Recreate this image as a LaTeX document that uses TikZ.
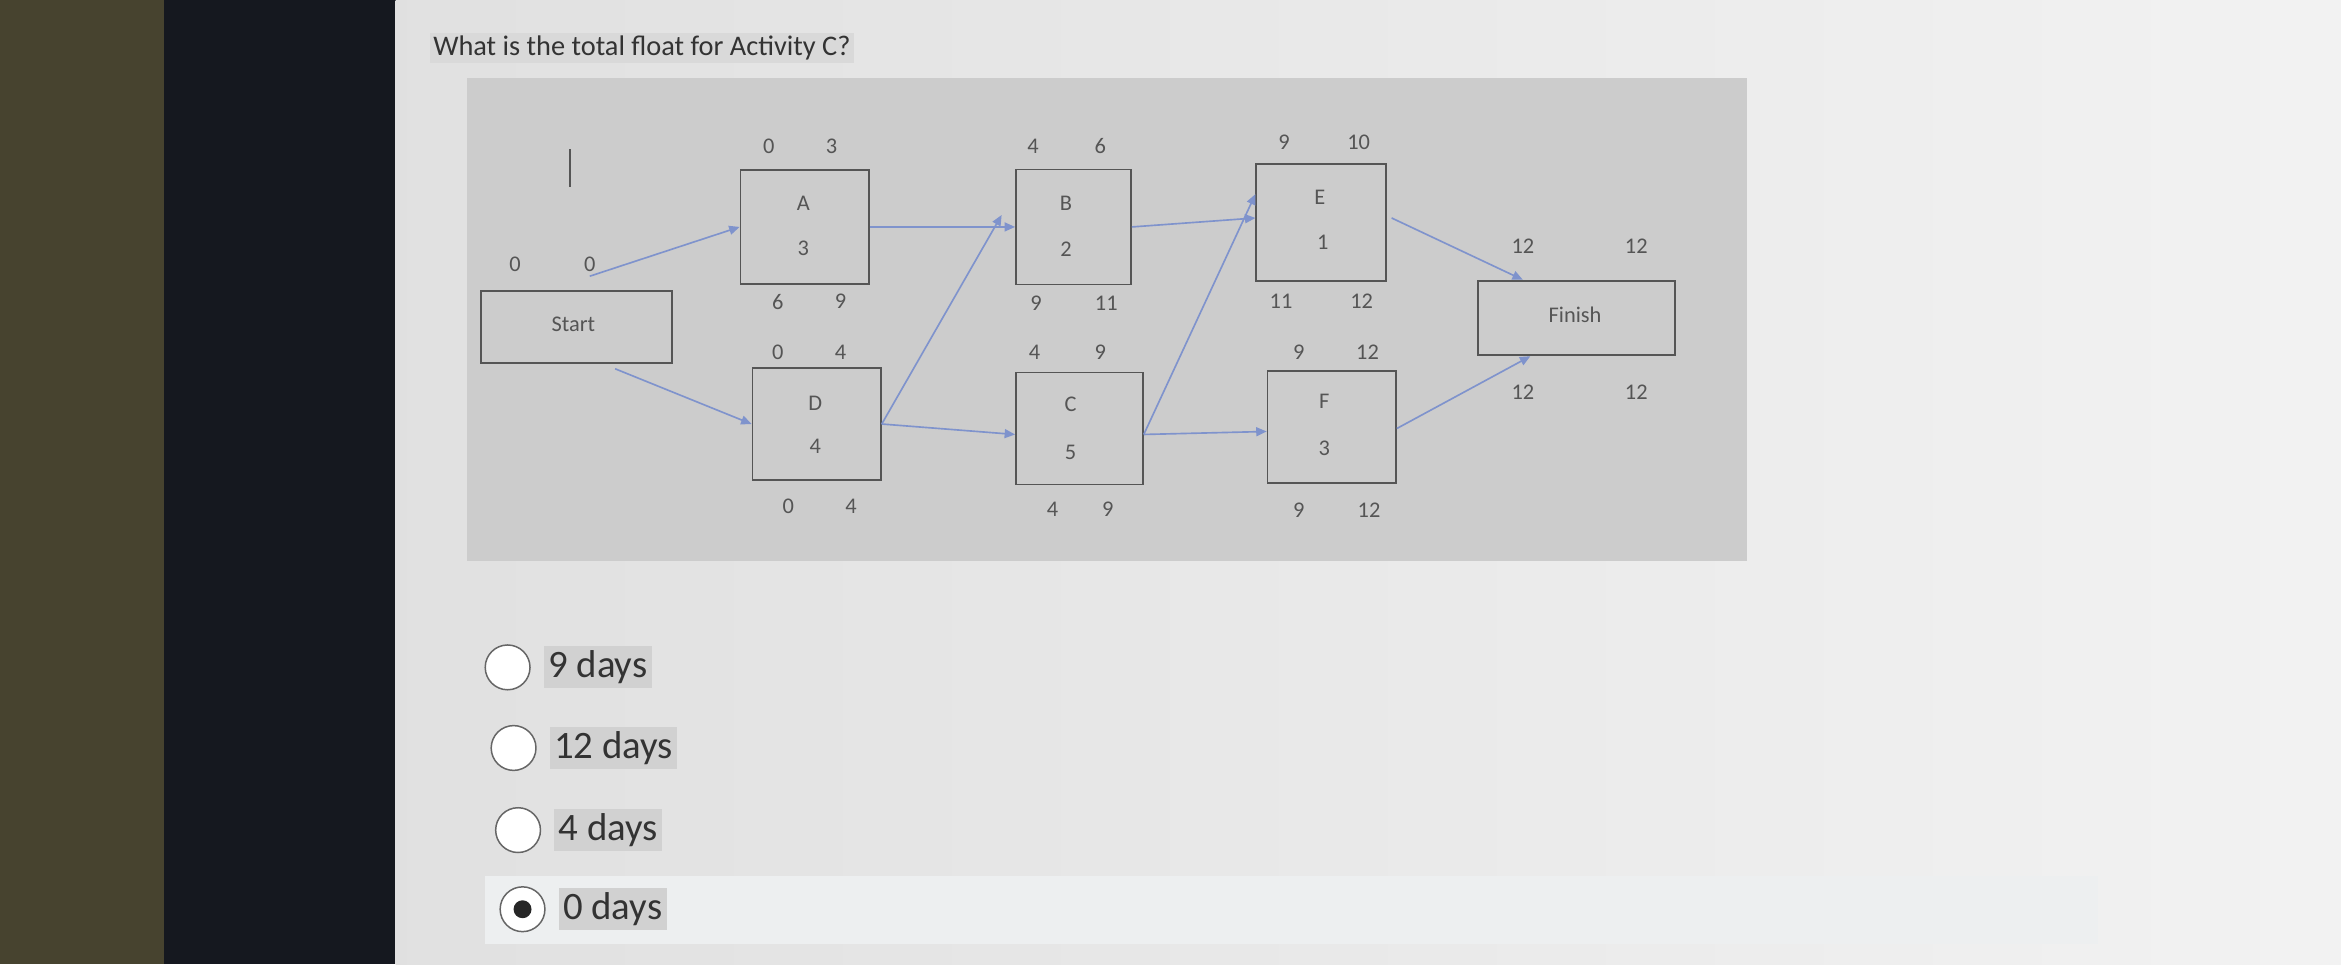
\documentclass[tikz,border=0pt]{standalone}
\usepackage{fontspec}
\setmainfont{Carlito}
\usetikzlibrary{arrows.meta}
\definecolor{lbl}{HTML}{555555}
\definecolor{arr}{HTML}{7F93CC}
\definecolor{olive}{HTML}{47432F}
\definecolor{navy}{HTML}{15181F}
\begin{document}
\begin{tikzpicture}[x=1pt,y=-1pt,
  act/.style={draw=lbl,fill=none,line width=1.2pt},
  num/.style={text=lbl,font=\fontsize{15}{15}\selectfont,inner sep=0pt},
  con/.style={draw=arr,line width=1.1pt,-{Triangle[length=7pt,width=6pt]}},
  opt/.style={font=\fontsize{26}{26}\selectfont,fill=black!18,inner sep=3pt,anchor=west,text=black!80}]
\useasboundingbox (0,0) rectangle (1568,646);
\fill[olive] (0,0) rectangle (110,646);
\fill[navy] (110,0) rectangle (265,646);
\shade[left color=black!12,right color=black!5] (265,0) rectangle (1568,646);
\fill[cyan!20!black!8] (325,587) rectangle (1405,632);
\node[fill=black!15,inner sep=2pt,anchor=west,font=\fontsize{19}{19}\selectfont,text=black!80] (q) at (288,32) {What is the total float for Activity C?};
\fill[black!20] (313,52) rectangle (1170,376);
\draw[lbl,line width=1.5pt] (382,100) -- (382,125);
% boxes
\node[act,minimum width=128pt,minimum height=48pt] (st) at (386,219) {};
\node[num] at (384,217) {Start};
\node[act,minimum width=86pt,minimum height=76pt] (A) at (539,152) {};
\node[act,minimum width=86pt,minimum height=75pt] (D) at (547,284) {};
\node[act,minimum width=77pt,minimum height=77pt] (B) at (719,152) {};
\node[act,minimum width=85pt,minimum height=75pt] (C) at (723,287) {};
\node[act,minimum width=87pt,minimum height=78pt] (E) at (885,149) {};
\node[act,minimum width=86pt,minimum height=75pt] (F) at (892,286) {};
\node[act,minimum width=132pt,minimum height=50pt] (fin) at (1056,213) {};
\node[num] at (1055,211) {Finish};
% inner labels
\foreach \x/\y/\t in {538/136/A,538/166/3,546/270/D,546/299/4,714/136/B,714/167/2,
  717/271/C,717/303/5,884/132/E,886/162/1,887/269/F,887/300/3}
  \node[num] at (\x,\y) {\t};
% times
\foreach \x/\y/\t in {345/177/0,395/177/0,515/98/0,557/98/3,521/202/6,563/202/9,
  521/236/0,563/236/4,528/339/0,570/339/4,692/98/4,737/98/6,694/203/9,741/203/11,
  693/236/4,737/236/9,705/341/4,742/341/9,860/95/9,910/95/10,858/202/11,912/202/12,
  870/236/9,916/236/12,870/342/9,917/342/12,1020/165/12,1096/165/12,1020/263/12,1096/263/12}
  \node[num] at (\x,\y) {\t};
% connectors
\coordinate (s1) at (395,185); \coordinate (s2) at (412,247);
\draw[con] (s1) -- (A.west);
\draw[con] (s2) -- (D.west);
\draw[con] (A.east) -- (B.west);
\draw[con] (D.east) -- ([xshift=-9pt,yshift=8pt]B.west);
\draw[con] (D.east) -- ([yshift=-4pt]C.west);
\draw[con] (B.east) -- ([yshift=3pt]E.west);
\draw[con] ([yshift=-4pt]C.east) -- ([yshift=19pt]E.west);
\draw[con] ([yshift=-4pt]C.east) -- ([yshift=-3pt]F.west);
\draw[con] ([xshift=3pt,yshift=3pt]E.east) -- ([xshift=-36pt]fin.north);
\draw[con] ([yshift=-1pt]F.east) -- ([xshift=-31pt]fin.south);
% options
\foreach \y/\t/\n/\cx in {447/9 days/o1/340,501/12 days/o2/344,556/4 days/o3/347}{
  \draw[black!60,line width=1pt,fill=white] (\cx,\y) circle (15);
  \node[opt] (\n) at (\cx+24,\y) {\t};}
\draw[black!60,line width=1pt,fill=white] (350,609) circle (15);
\fill[black!85] (350,609) circle (6);
\node[opt] (o4) at (374,609) {0 days};
\end{tikzpicture}
\end{document}
